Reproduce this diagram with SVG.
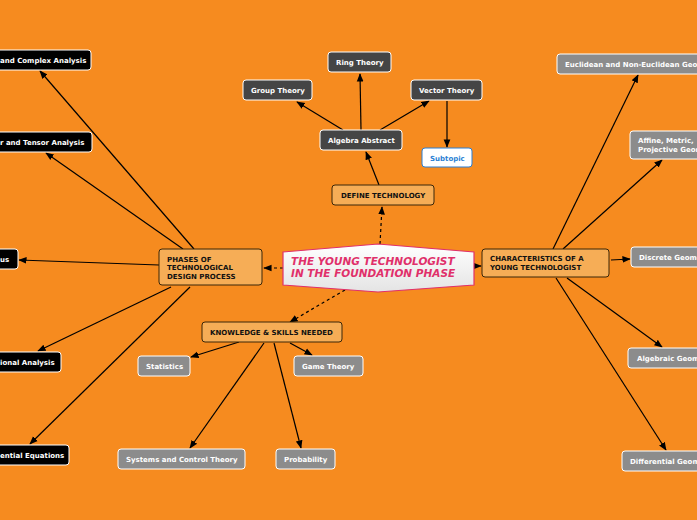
<svg xmlns="http://www.w3.org/2000/svg" width="697" height="520" viewBox="0 0 697 520">
<defs>
<marker id="a" viewBox="0 0 10 10" refX="9" refY="5" markerWidth="7" markerHeight="7" orient="auto"><path d="M0,1 L10,5 L0,9 z" fill="#000"/></marker>
<linearGradient id="hg" x1="0" y1="0" x2="0" y2="1"><stop offset="0" stop-color="#fff"/><stop offset="1" stop-color="#e4e4e4"/></linearGradient>
</defs>
<style>
text{font-family:"DejaVu Sans","Liberation Sans",sans-serif;font-weight:bold;font-size:7px}
.blk rect{fill:#000;stroke:#fff;stroke-width:1}
.blk text,.dg text,.gr text{fill:#fff}
.dg rect{fill:#454545;stroke:#fff;stroke-width:1}
.gr rect{fill:#8c8c8c;stroke:#fff;stroke-width:1}
.or rect{fill:#f6ad56;stroke:#3a2608;stroke-width:1}
.or text{fill:#111}
.c line{stroke:#000;stroke-width:1.2;marker-end:url(#a)}
.c .d{stroke-dasharray:3,3}
</style>
<rect width="697" height="520" fill="#f68b1f"/>
<g class="c">
<line class="d" x1="380" y1="244" x2="382" y2="207"/>
<line class="d" x1="283" y1="268" x2="264" y2="268"/>
<line class="d" x1="474" y1="266" x2="481" y2="266"/>
<line class="d" x1="345" y1="290" x2="290" y2="322"/>
<line x1="379" y1="185" x2="366" y2="152"/>
<line x1="343" y1="130" x2="297" y2="102"/>
<line x1="361" y1="130" x2="360" y2="74"/>
<line x1="380" y1="130" x2="429" y2="101"/>
<line x1="447" y1="101" x2="447" y2="147"/>
<line x1="194" y1="249" x2="40" y2="71"/>
<line x1="183" y1="249" x2="46" y2="153"/>
<line x1="159" y1="265" x2="19" y2="260"/>
<line x1="171" y1="287" x2="38" y2="351"/>
<line x1="190" y1="287" x2="30" y2="444"/>
<line x1="239" y1="342" x2="191" y2="357"/>
<line x1="264" y1="343" x2="190" y2="448"/>
<line x1="274" y1="343" x2="301" y2="448"/>
<line x1="290" y1="343" x2="312" y2="355"/>
<line x1="553" y1="249" x2="638" y2="75"/>
<line x1="563" y1="249" x2="662" y2="160"/>
<line x1="611" y1="260" x2="630" y2="259"/>
<line x1="567" y1="278" x2="662" y2="347"/>
<line x1="556" y1="278" x2="666" y2="450"/>
</g>
<g id="center"><polygon points="283,252 378,244 474,252 474,285 378,292 283,285" fill="url(#hg)" stroke="#e0306a" stroke-width="1.2"/>
<text x="291" y="265" style="font-size:10.5px;font-style:italic;fill:#e0306a">THE YOUNG TECHNOLOGIST</text>
<text x="291" y="277" style="font-size:10.5px;font-style:italic;fill:#e0306a">IN THE FOUNDATION PHASE</text></g>
<g id="define" class="or"><rect x="332" y="185" width="102" height="20" rx="3"/><text x="341" y="198">DEFINE TECHNOLOGY</text></g>
<g id="phases" class="or"><rect x="159" y="249" width="103" height="36" rx="3"/><text x="167" y="262">PHASES OF</text><text x="167" y="270">TECHNOLOGICAL</text><text x="167" y="279">DESIGN PROCESS</text></g>
<g id="chars" class="or"><rect x="482" y="249" width="127" height="28" rx="3"/><text x="490" y="261">CHARACTERISTICS OF A</text><text x="490" y="270">YOUNG TECHNOLOGIST</text></g>
<g id="know" class="or"><rect x="202" y="322" width="140" height="20" rx="3"/><text x="210" y="335">KNOWLEDGE &amp; SKILLS NEEDED</text></g>
<g id="alg" class="dg"><rect x="320" y="130" width="82" height="20" rx="3"/><text x="328" y="143">Algebra Abstract</text></g>
<g id="group" class="dg"><rect x="243" y="80" width="69" height="20" rx="3"/><text x="251" y="93">Group Theory</text></g>
<g id="ring" class="dg"><rect x="328" y="52" width="63" height="20" rx="3"/><text x="336" y="65">Ring Theory</text></g>
<g id="vector" class="dg"><rect x="411" y="80" width="71" height="20" rx="3"/><text x="419" y="93">Vector Theory</text></g>
<g id="subtopic"><rect x="422" y="148" width="50" height="19" rx="3" fill="#fff" stroke="#2a7fd4"/><text x="430" y="161" fill="#2a7fd4">Subtopic</text></g>
<g id="b1" class="blk"><rect x="-10" y="50" width="101" height="20" rx="3"/><text x="0" y="63">and Complex Analysis</text></g>
<g id="b2" class="blk"><rect x="-10" y="132" width="102" height="20" rx="3"/><text x="0" y="145">r and Tensor Analysis</text></g>
<g id="b3" class="blk"><rect x="-10" y="249" width="28" height="20" rx="3"/><text x="0" y="262">us</text></g>
<g id="b4" class="blk"><rect x="-10" y="352" width="71" height="20" rx="3"/><text x="0" y="365">ional Analysis</text></g>
<g id="b5" class="blk"><rect x="-10" y="445" width="79" height="20" rx="3"/><text x="0" y="458">ential Equations</text></g>
<g id="stat" class="gr"><rect x="138" y="356" width="52" height="20" rx="3"/><text x="146" y="369">Statistics</text></g>
<g id="game" class="gr"><rect x="294" y="356" width="69" height="20" rx="3"/><text x="302" y="369">Game Theory</text></g>
<g id="sys" class="gr"><rect x="118" y="449" width="127" height="20" rx="3"/><text x="126" y="462">Systems and Control Theory</text></g>
<g id="prob" class="gr"><rect x="276" y="449" width="59" height="20" rx="3"/><text x="284" y="462">Probability</text></g>
<g id="g1" class="gr"><rect x="557" y="54" width="150" height="20" rx="3"/><text x="565" y="67">Euclidean and Non-Euclidean Geometry</text></g>
<g id="g2" class="gr"><rect x="630" y="131" width="80" height="28" rx="3"/><text x="638" y="143">Affine, Metric,</text><text x="638" y="152">Projective Geometry</text></g>
<g id="g3" class="gr"><rect x="631" y="247" width="80" height="20" rx="3"/><text x="639" y="260">Discrete Geometry</text></g>
<g id="g4" class="gr"><rect x="628" y="348" width="80" height="20" rx="3"/><text x="637" y="361">Algebraic Geometry</text></g>
<g id="g5" class="gr"><rect x="622" y="451" width="90" height="20" rx="3"/><text x="630" y="464">Differential Geometry</text></g>
</svg>
